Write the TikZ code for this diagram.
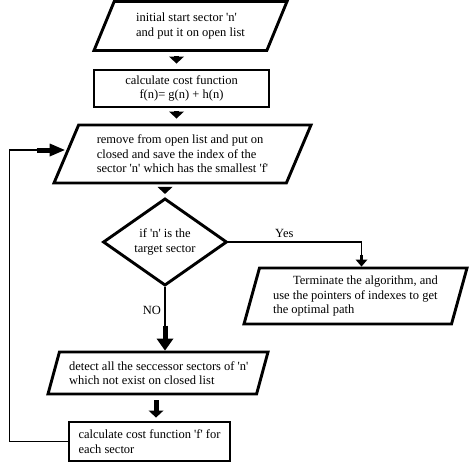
\documentclass[tikz,border=0pt]{standalone}
\usepackage{fontspec}
\setmainfont{Liberation Serif}
\usetikzlibrary{arrows.meta,calc,positioning,shapes.geometric}
\newcommand{\sq}{\textquotesingle}
\tikzset{%
	inout/.style 2 args = {draw, line width=2.9pt, trapezium, trapezium left angle=#1, trapezium right angle=#2, trapezium stretches body, inner sep=0pt},
	process/.style  = {draw, line width=2.9pt, rectangle, inner sep=0pt},
	decision/.style = {draw, line width=2.9pt, diamond, inner sep=0pt, align=center},
	line/.style     = {line width=1.4pt},
	arrow/.style    = {line width=5pt, -{Triangle[length=7pt,width=15pt,line width=0pt]}},
	yesarrow/.style = {line width=3.5pt, -{Triangle[length=7pt,width=12pt,line width=0pt]}},
	bigarrow/.style = {line width=5pt, -{Triangle[length=12pt,width=17pt,line width=0pt]}},
	sidearrow/.style= {line width=5pt, -{Triangle[length=15pt,width=13pt,line width=0pt]}},
}

\begin{document}
\begin{tikzpicture}[x=1pt,y=-1pt,font=\fontsize{12.5}{14.5}\selectfont]
		\useasboundingbox (0,0) rectangle (474,474);
		
		\node[inout={52}{128}, minimum width=193pt, minimum height=49pt, align=left] (start) at (190.5,26) {initial start sector \sq n\sq\\and put it on open list};
		\node[process, minimum width=175pt, minimum height=37pt, align=center] (cost) at (181.5,88.5) {calculate cost function\\f(n)= g(n) + h(n)};
		\node[inout={57}{123}, minimum width=257pt, minimum height=58pt, align=left] (remove) at (182.5,154) {remove from open list and put on\\closed and save the index of the\\sector \sq n\sq{} which has the smallest \sq f\sq};
		\node[decision, minimum width=124pt, minimum height=77pt] (test) at (165,242) {if \sq n\sq{} is the\\target sector};
		\node[inout={69}{111}, minimum width=223pt, minimum height=56pt, align=left] (term) at (355.5,296) {\hspace*{20pt}Terminate the algorithm, and\\use the pointers of indexes to get\\the optimal path};
		\node[inout={64}{116}, minimum width=220pt, minimum height=42pt, align=left] (detect) at (158,373) {\makebox[178pt][l]{detect all the seccessor sectors of \sq n\sq}\\which not exist on closed list};
		\node[process, minimum width=161pt, minimum height=39pt, align=left] (each) at (149.5,441.5) {calculate cost function \sq f\sq{} for\\each sector};
		\coordinate[left=58pt of each.west] (back);
		
		\draw[arrow] ([xshift=-5pt,yshift=-4pt]cost.north |- start.south) -- ([xshift=-5pt,yshift=5pt]cost.north);
		\draw[arrow] ([xshift=-5pt,yshift=-3pt]cost.south) -- ([xshift=-5pt,yshift=5pt]cost.south |- remove.north);
		\draw[arrow] ([yshift=-5pt]test.north |- remove.south) -- ([yshift=3pt]test.north);
		
		\draw[line] (test.east) -| ([xshift=6pt,yshift=12pt]term.north) node[pos=0.21,above] {Yes};
		\draw[yesarrow] ([xshift=6pt,yshift=12pt]term.north) -- ([xshift=6pt]term.north);
		
		\draw[line] (test.south) -- ([yshift=25pt]test.south |- detect.north) node[pos=0.61,left] {NO};
		\draw[bigarrow] ([yshift=25pt]test.south |- detect.north) -- (test.south |- detect.north);
		
		\draw[arrow] ([xshift=-2pt,yshift=-5pt]detect.south) -- ([xshift=-2pt,yshift=3pt]detect.south |- each.north);
		
		\draw[line] (each.west) -- (back) |- ([xshift=-28pt,yshift=4pt]remove.west);  % back to the open list
		\draw[sidearrow] ([xshift=-28pt,yshift=4pt]remove.west) -- ([yshift=4pt]remove.west);
	\end{tikzpicture}
\end{document}
